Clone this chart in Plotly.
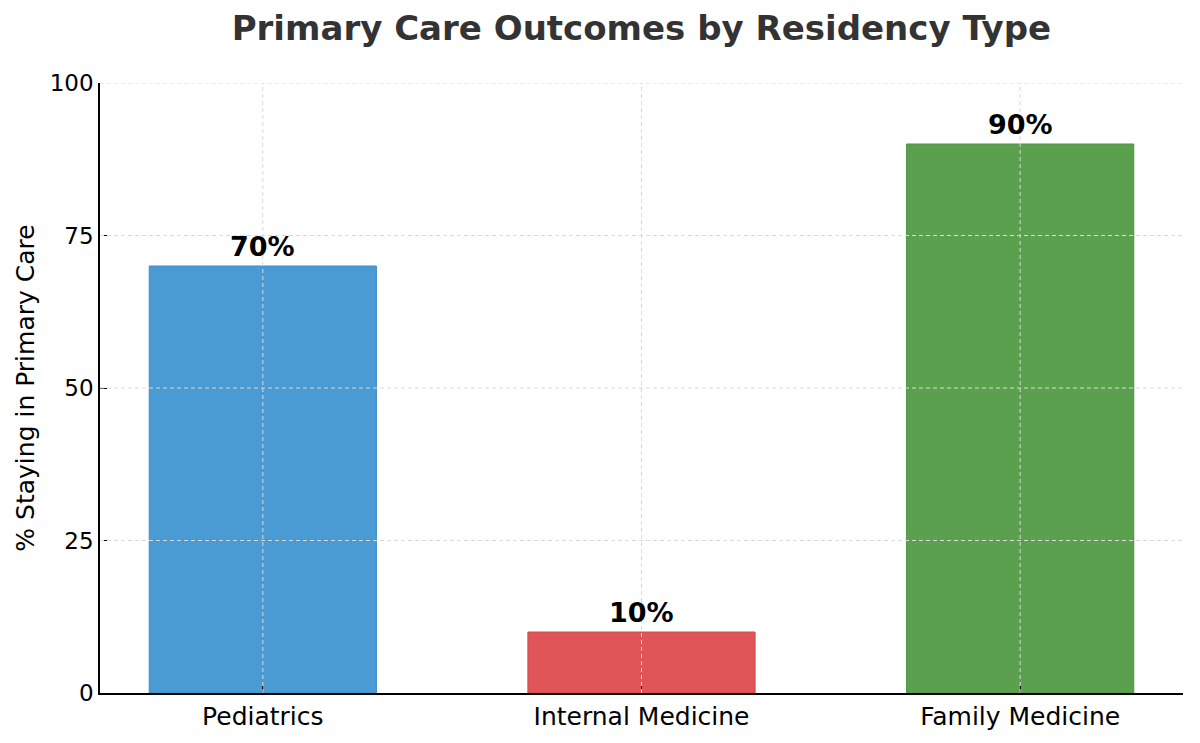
import plotly.graph_objects as go

categories = ["Pediatrics", "Internal Medicine", "Family Medicine"]
values = [70, 10, 90]
bar_colors = ["#4A9BD4", "#E05558", "#5AA04E"]
edge_colors = ["#3F8CC4", "#D04A4D", "#4E9243"]
y_ticks = [0, 25, 50, 75, 100]
labels = [f"{v}%" for v in values]

x_pos = list(range(len(categories)))

fig = go.Figure()
fig.add_trace(go.Bar(
    x=x_pos, y=values, width=0.6,
    marker=dict(color=bar_colors, line=dict(color=edge_colors, width=1)),
    showlegend=False,
))

annotations = []
for xp, v, lab in zip(x_pos, values, labels):
    annotations.append(dict(x=xp, y=v, xref="x", yref="y", text=f"<b>{lab}</b>",
                            showarrow=False, yanchor="bottom", yshift=2,
                            font=dict(family="DejaVu Sans", size=27, color="black")))

grid_style = dict(color="#d9d9d9", width=1, dash="4px,3px")
shapes = []
for yt in y_ticks[1:]:
    shapes.append(dict(type="line", xref="paper", yref="y", x0=0, x1=1, y0=yt, y1=yt,
                       line=grid_style, layer="above"))
for xp in x_pos:
    shapes.append(dict(type="line", xref="x", yref="paper", x0=xp, x1=xp, y0=0, y1=1,
                       line=grid_style, layer="above"))

fig.update_layout(
    width=1200, height=743,
    margin=dict(l=100, r=17, t=83, b=48),
    plot_bgcolor="white", paper_bgcolor="white",
    shapes=shapes, annotations=annotations,
    title=dict(text="<b>Primary Care Outcomes by Residency Type</b>",
               font=dict(family="DejaVu Sans", size=34, color="#333333"),
               x=0.5345, xanchor="center", y=0.978, yanchor="top"),
    xaxis=dict(
        tickmode="array", tickvals=x_pos, ticktext=categories,
        range=[-0.43, 2.43], showgrid=False, zeroline=False,
        showline=True, linecolor="black", linewidth=1.5,
        ticks="inside", ticklen=7, tickcolor="black",
        tickfont=dict(family="DejaVu Sans", size=25, color="black"),
    ),
    yaxis=dict(
        range=[0, 100], tickvals=y_ticks, showgrid=False, zeroline=False,
        showline=True, linecolor="black", linewidth=1.5,
        ticks="inside", ticklen=7, tickcolor="black",
        tickfont=dict(family="DejaVu Sans", size=23, color="black"),
        title=dict(text="% Staying in Primary Care", standoff=8,
                   font=dict(family="DejaVu Sans", size=25, color="black")),
    ),
)

fig.write_html("out.html")
